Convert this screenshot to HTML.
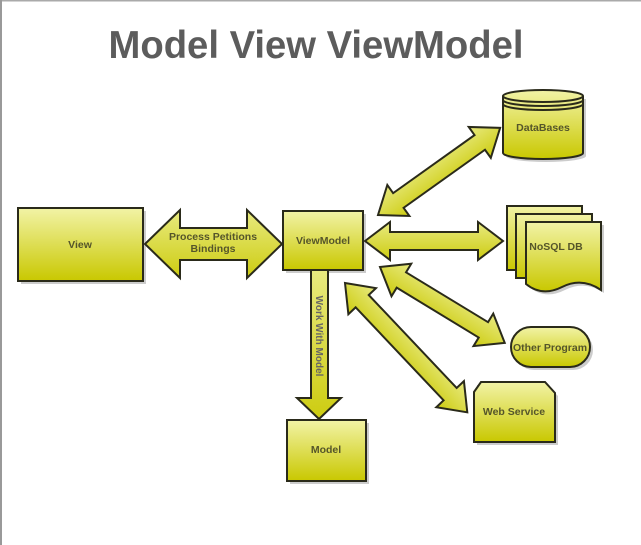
<!DOCTYPE html>
<html><head><meta charset="utf-8"><style>
html,body{margin:0;padding:0;background:#fff}
svg{display:block}
text{font-family:"Liberation Sans",Arial,sans-serif;font-weight:bold}
</style></head><body>
<svg width="641" height="545" viewBox="0 0 641 545" xmlns="http://www.w3.org/2000/svg">
<defs>
<linearGradient id="g" x1="0" y1="0" x2="0" y2="1">
<stop offset="0" stop-color="#f2f3a6"/><stop offset="1" stop-color="#c9c800"/>
</linearGradient>
<linearGradient id="ga" x1="0" y1="0" x2="0" y2="1">
<stop offset="0" stop-color="#e8ea80"/><stop offset="1" stop-color="#cdcc10"/>
</linearGradient>
</defs>
<rect x="0" y="0" width="641" height="545" fill="#fff"/>
<rect x="0" y="0" width="641" height="1.5" fill="#aaa"/>
<rect x="0" y="0" width="2" height="545" fill="#999"/>

<text x="316" y="58" font-size="39" fill="#5c5c5c" text-anchor="middle" textLength="415" lengthAdjust="spacingAndGlyphs">Model View ViewModel</text>

<g stroke="#2a2a1a" stroke-width="2" fill="url(#g)">
<!-- View -->
<rect x="21" y="211" width="125" height="73" fill="#999" stroke="none" opacity="0.5"/>
<rect x="18" y="208" width="125" height="73"/>
<!-- ViewModel -->
<rect x="286" y="214" width="80" height="59" fill="#999" stroke="none" opacity="0.5"/>
<rect x="283" y="211" width="80" height="59"/>
<!-- Model -->
<rect x="290" y="423" width="79" height="61" fill="#999" stroke="none" opacity="0.5"/>
<rect x="287" y="420" width="79" height="61"/>
<!-- Web Service -->
<path d="M477 385 L547 385 L558 396 L558 445 L477 445 Z" fill="#999" stroke="none" opacity="0.5"/>
<path d="M474 392 L481 382 L545 382 L555 393 L555 442 L474 442 Z"/>
<!-- Other program -->
<rect x="514" y="330" width="79" height="40" rx="20" fill="#999" stroke="none" opacity="0.5"/>
<rect x="511" y="327" width="79" height="40" rx="20"/>
<!-- DataBases -->
<path d="M506 99 L506 156 A40 6 0 0 0 586 156 L586 99 Z" fill="#999" stroke="none" opacity="0.5"/>
<path d="M503 96 L503 153 A40 6 0 0 0 583 153 L583 96 A40 6 0 0 0 503 96 Z"/>
<path d="M503 96 A40 6 0 0 0 583 96 M503 100 A40 6 0 0 0 583 100 M503 104 A40 6 0 0 0 583 104" fill="none"/>
<!-- NoSQL -->
<path d="M507 206 L582 206 L582 270 L507 270 Z"/>
<path d="M516 214 L592 214 L592 278 L516 278 Z"/>
<path d="M529 225 L604 225 L604 293 Q585 280 565 290 Q545 300 529 287 Z" fill="#999" stroke="none" opacity="0.5"/>
<path d="M526 222 L601 222 L601 290 Q582 277 562 287 Q542 297 526 284 Z"/>
</g>

<g stroke="#2a2a1a" stroke-width="2" fill="url(#ga)">
<!-- big double arrow -->
<path d="M145 244 L180 210 L180 228 L247 228 L247 210 L282 244 L247 278 L247 260 L180 260 L180 278 Z"/>
<!-- horizontal to NoSQL -->
<g transform="translate(365,241)"><path d="M0 0 L25 -19 L25 -9 L113 -9 L113 -19 L138 0 L113 19 L113 9 L25 9 L25 19 Z"/></g>
<!-- to DB -->
<g transform="translate(378,215) rotate(-35.5)"><path d="M0 0 L25 -19 L25 -9 L125 -9 L125 -19 L150 0 L125 19 L125 9 L25 9 L25 19 Z"/></g>
<!-- to Other -->
<g transform="translate(380,267) rotate(31.3)"><path d="M0 0 L25 -19 L25 -9 L121 -9 L121 -19 L146 0 L121 19 L121 9 L25 9 L25 19 Z"/></g>
<!-- to Web -->
<g transform="translate(345,283) rotate(46.6)"><path d="M0 0 L25 -19 L25 -9 L153 -9 L153 -19 L178 0 L153 19 L153 9 L25 9 L25 19 Z"/></g>
<!-- down arrow -->
<path d="M311 270 L328 270 L328 398 L341 398 L319 419 L297 398 L311 398 Z"/>
</g>

<g fill="#55552a" font-size="10.5" text-anchor="middle">
<text x="80" y="248">View</text>
<text x="323" y="244">ViewModel</text>
<text x="326" y="453">Model</text>
<text x="514" y="415">Web Service</text>
<text x="550" y="351">Other Program</text>
<text x="543" y="131">DataBases</text>
<text x="556" y="250">NoSQL DB</text>
<text x="213" y="240">Process Petitions</text>
<text x="213" y="252">Bindings</text>
<text transform="translate(316,336) rotate(90)" font-size="10" font-weight="normal" fill="#666">Work With Model</text>
</g>
</svg>
</body></html>
